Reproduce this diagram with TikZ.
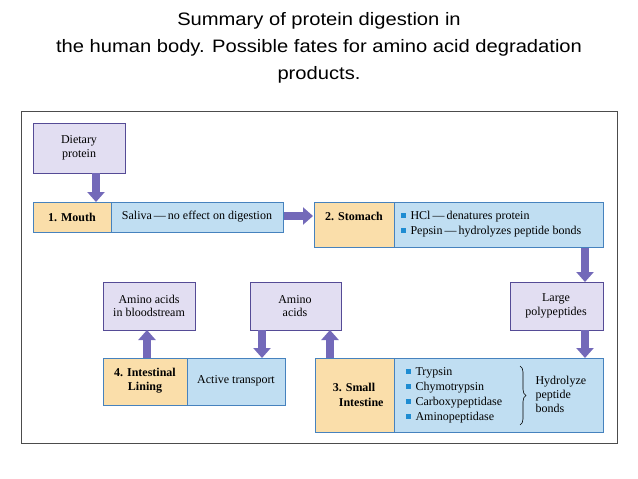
\documentclass[tikz,border=0pt]{standalone}
\usepackage{fontspec}
\setmainfont{Liberation Serif}
\newfontfamily\titlefont{Liberation Sans}
\usetikzlibrary{arrows.meta,decorations.pathreplacing}
\definecolor{pbox}{RGB}{226,222,242}
\definecolor{pedge}{RGB}{85,75,150}
\definecolor{tan}{RGB}{250,222,170}
\definecolor{lblue}{RGB}{192,222,242}
\definecolor{bedge}{RGB}{70,130,190}
\definecolor{arr}{RGB}{115,105,185}
\definecolor{bul}{RGB}{30,140,210}
\newcommand{\bl}{\textcolor{bul}{\rule[1.5pt]{5pt}{5pt}}\hspace{5pt}}
\newcommand{\tl}[1]{\scalebox{1.12}[1]{#1}}
\tikzset{
 pb/.style={draw=pedge,fill=pbox,line width=1pt},
 tb/.style={draw=bedge,fill=tan,line width=1pt},
 bb/.style={draw=bedge,fill=lblue,line width=1pt},
 tx/.style={font=\fontsize{12}{13.5}\selectfont,align=center},
 fat/.style={draw=arr,line width=8pt,-{Triangle[width=17pt,length=10pt]}},
}
\begin{document}
\begin{tikzpicture}[x=1pt,y=-1pt]
\useasboundingbox (0,0) rectangle (638,479);
\node[font=\titlefont\fontsize{18}{27}\selectfont,align=center] (title) at (319,48) {\tl{Summary of protein digestion in}\\\tl{the human body. Possible fates for amino acid degradation}\\\tl{products.}};
\draw[line width=0.8pt,black!70] (21,111) rectangle (617,443);
% boxes
\path[pb] (33,123) rectangle (125,173);
\node[tx] (diet) at (79,148) {Dietary\\protein};
\coordinate (dietS) at (96,173);
\path[tb] (33,202) rectangle (111,232);
\path[bb] (111,202) rectangle (283,232);
\node[tx,font=\fontsize{12}{13.5}\selectfont\bfseries] (mouth) at (72,217) {1. Mouth};
\node[tx] (saliva) at (197,217) {Saliva\,—\,no effect on digestion};
\coordinate (mouthN) at (96,202);
\coordinate (mouthE) at (284,216);
\path[tb] (314,202) rectangle (394,247);
\path[bb] (394,202) rectangle (603,247);
\node[tx,font=\fontsize{12}{13.5}\selectfont\bfseries] (stom) at (354,216) {2. Stomach};
\node[font=\fontsize{12}{15}\selectfont,align=left,anchor=west] (stomt) at (397,224) {\bl HCl\,—\,denatures protein\\\bl Pepsin\,—\,hydrolyzes peptide bonds};
\coordinate (stomW) at (313,216);
\coordinate (stomS) at (585,248);
\path[pb] (510,282) rectangle (603,330);
\node[tx] (large) at (556,306) {Large\\polypeptides};
\coordinate (largeN) at (585,282);
\coordinate (largeS) at (585,330);
\path[pb] (103,282) rectangle (195,330);
\node[tx] (blood) at (149,306) {Amino acids\\in bloodstream};
\coordinate (bloodS) at (147,330);
\path[pb] (250,282) rectangle (341,330);
\node[tx] (amino) at (295,306) {Amino\\acids};
\coordinate (aminoS1) at (262,330);
\coordinate (aminoS2) at (330,330);
\path[tb] (103,358) rectangle (187,405);
\path[bb] (187,358) rectangle (285,405);
\node[tx,font=\fontsize{12}{14}\selectfont\bfseries] (intest) at (145,381) {4. Intestinal\\Lining};
\node[tx] (active) at (236,381) {Active transport};
\coordinate (intN1) at (147,358);
\coordinate (intN2) at (262,358);
\path[tb] (315,358) rectangle (394,432);
\path[bb] (394,358) rectangle (603,432);
\node[tx,font=\fontsize{12}{15}\selectfont\bfseries] (si) at (354,395) {3. Small\\\hspace*{1.2em}Intestine};
\node[font=\fontsize{12}{15}\selectfont,align=left,anchor=west] (enz) at (402,395) {\bl Trypsin\\\bl Chymotrypsin\\\bl Carboxypeptidase\\\bl Aminopeptidase};
\node[font=\fontsize{12}{14}\selectfont,align=left,anchor=west] (hyd) at (532,394) {Hydrolyze\\peptide\\bonds};
\draw[decorate,decoration={brace,amplitude=6pt},line width=0.6pt] (520,366) -- (520,425);
\coordinate (siN1) at (585,358);
\coordinate (siN2) at (330,358);
% arrows
\draw[fat] (dietS) -- (mouthN);
\draw[fat] (mouthE) -- (stomW);
\draw[fat] (stomS) -- (largeN);
\draw[fat] (largeS) -- (siN1);
\draw[fat] (siN2) -- (aminoS2);
\draw[fat] (aminoS1) -- (intN2);
\draw[fat] (intN1) -- (bloodS);
\end{tikzpicture}
\end{document}
